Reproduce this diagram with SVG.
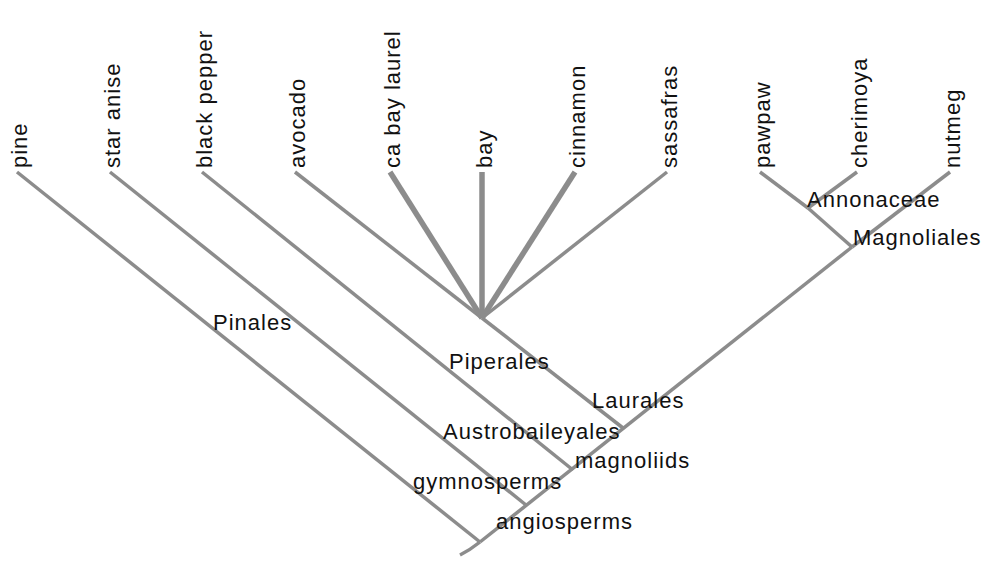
<svg xmlns="http://www.w3.org/2000/svg" width="1000" height="561" viewBox="0 0 1000 561">
<style>
.e{stroke:#8c8c8c;stroke-width:3.5;fill:none;stroke-linecap:butt}
.t{stroke-width:5.5}
text{font-family:"Liberation Sans",Arial,sans-serif;font-size:22px;letter-spacing:1px;fill:#111}
.v{}
</style>
<rect width="1000" height="561" fill="#fff"/>
<g id="connectors">
<path class="e" d="M460,555 Q470,550 480,542"/>
<line class="e" x1="17" y1="172" x2="480" y2="542"/>
<line class="e" x1="480" y1="542" x2="852" y2="247"/>
<line class="e" x1="110" y1="172" x2="526" y2="505"/>
<line class="e" x1="202" y1="172" x2="573" y2="470"/>
<line class="e" x1="482" y1="318" x2="623" y2="428"/>
<line class="e" x1="295" y1="172" x2="482" y2="318"/>
<line class="e t" x1="390" y1="172" x2="482" y2="318"/>
<line class="e t" x1="482" y1="172" x2="482" y2="318"/>
<line class="e t" x1="575" y1="172" x2="482" y2="318"/>
<line class="e" x1="667" y1="172" x2="482" y2="318"/>
<line class="e" x1="852" y1="247" x2="950" y2="172"/>
<line class="e" x1="852" y1="247" x2="808" y2="208"/>
<line class="e" x1="808" y1="208" x2="760" y2="172"/>
<line class="e" x1="808" y1="208" x2="857" y2="172"/>
</g>
<g id="tips">
<text transform="translate(27,168) rotate(-90)">pine</text>
<text transform="translate(120,168) rotate(-90)">star anise</text>
<text transform="translate(212,168) rotate(-90)">black pepper</text>
<text transform="translate(305,168) rotate(-90)">avocado</text>
<text transform="translate(400,168) rotate(-90)">ca bay laurel</text>
<text transform="translate(492,168) rotate(-90)">bay</text>
<text transform="translate(585,168) rotate(-90)">cinnamon</text>
<text transform="translate(677,168) rotate(-90)">sassafras</text>
<text transform="translate(770,168) rotate(-90)">pawpaw</text>
<text transform="translate(867,168) rotate(-90)">cherimoya</text>
<text transform="translate(960,168) rotate(-90)">nutmeg</text>
</g>
<g id="clades">
<text x="213" y="330">Pinales</text>
<text x="449" y="369">Piperales</text>
<text x="592" y="408">Laurales</text>
<text x="443" y="439">Austrobaileyales</text>
<text x="575" y="468">magnoliids</text>
<text x="413" y="489">gymnosperms</text>
<text x="496" y="529">angiosperms</text>
<text x="807" y="207">Annonaceae</text>
<text x="853" y="245">Magnoliales</text>
</g>
</svg>
